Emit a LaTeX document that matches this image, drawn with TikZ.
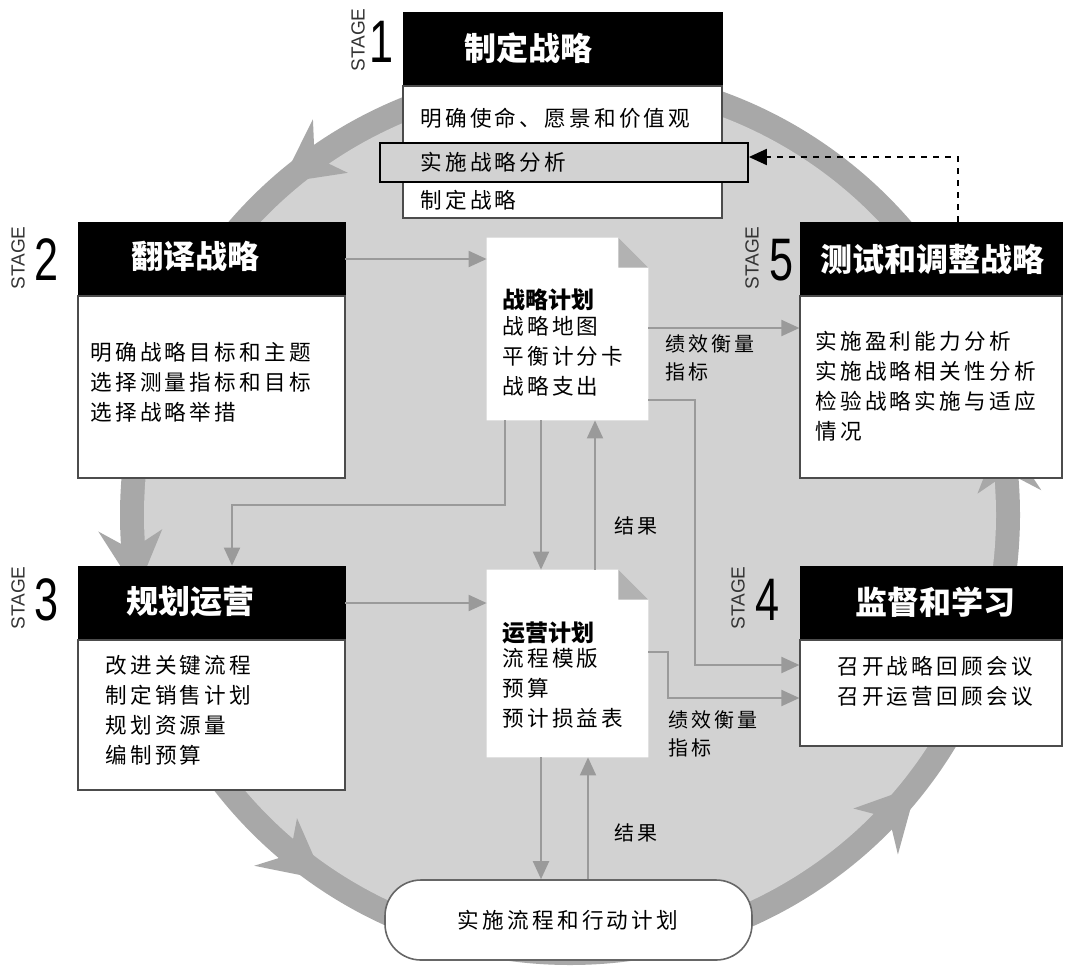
\documentclass[tikz,border=0pt]{standalone}
\usepackage{fontspec}
\usetikzlibrary{arrows.meta,calc}
\newfontfamily\cjk{Noto Sans CJK SC}
\newfontfamily\cjks[LetterSpace=15]{Noto Sans CJK SC}
\newfontfamily\stg{Liberation Sans}
\definecolor{ring}{HTML}{A8A8A8}
\definecolor{inner}{HTML}{D2D2D2}
\definecolor{ln}{HTML}{9A9A9A}
\tikzset{
 hdr/.style={fill=black,draw=black,minimum width=#1,minimum height=37pt,inner sep=0pt},
 bodyb/.style={fill=white,draw=black!70,line width=0.6pt,inner sep=0pt},
 ttl/.style={text=white,font=\cjk\fontsize{16}{18}\selectfont\bfseries},
 txt/.style={font=\cjks\fontsize{10.8}{15}\selectfont,align=left,inner sep=0pt},
 lab/.style={font=\cjks\fontsize{10}{14}\selectfont,align=left,inner sep=0pt},
 ga/.style={draw=ln,line width=1pt,-{Triangle[length=9pt,width=8pt]}},
 stagelbl/.style={font=\stg\fontsize{9.5}{10}\selectfont,rotate=90,text=black!80,inner sep=0pt},
 bignum/.style={font=\stg\fontsize{30}{30}\selectfont,xscale=0.72,inner sep=0pt}
}
\begin{document}
\begin{tikzpicture}[x=0.5pt,y=-0.5pt]
\useasboundingbox (0,0) rectangle (1080,975);
\coordinate (c) at (570,515);
% ring
\fill[ring] (c) circle (225pt);
\fill[inner] (c) circle (213pt);
\foreach \p in {237,178,132,46,357}{
  \fill[ring] ($(c)+(\p-8:440)$) -- ($(c)+(\p:408)$) -- ($(c)+(\p-2.5:440)$) -- ($(c)+(\p:472)$) -- cycle;
}
% stage 1
\node[hdr=159.5pt] (s1h) at (562.5,49) {};
\node[ttl] (s1t) at (528,48) {制定战略};
\node[bodyb,minimum width=159.5pt,minimum height=66pt] (s1b) at (562.5,152) {};
\node[txt,anchor=west] (s1l1) at (420,118) {明确使命、愿景和价值观};
\node[fill=inner,draw=black,line width=0.9pt,minimum width=184pt,minimum height=19.5pt,inner sep=0pt] (hl) at (564,162.5) {};
\node[txt,anchor=west] (s1l2) at (420,162) {实施战略分析};
\node[txt,anchor=west] (s1l3) at (420,200) {制定战略};
\node[stagelbl] (st1) at (358,40) {STAGE};
\node[bignum] (n1) at (382,42) {1};
% stage 2
\node[hdr=133.5pt] (s2h) at (211.5,259) {};
\node[ttl] (s2t) at (195,256) {翻译战略};
\node[bodyb,minimum width=133.5pt,minimum height=91pt] (s2b) at (211.5,387) {};
\node[txt,anchor=north west] (s2l) at (90,342) {明确战略目标和主题\\选择测量指标和目标\\选择战略举措};
\node[stagelbl] (st2) at (18,258) {STAGE};
\node[bignum] (n2) at (47,260) {2};
% stage 3
\node[hdr=133.5pt] (s3h) at (211.5,603) {};
\node[ttl] (s3t) at (190,602) {规划运营};
\node[bodyb,minimum width=133.5pt,minimum height=75pt] (s3b) at (211.5,715) {};
\node[txt,anchor=north west] (s3l) at (105,655) {改进关键流程\\制定销售计划\\规划资源量\\编制预算};
\node[stagelbl] (st3) at (18,598) {STAGE};
\node[bignum] (n3) at (47,600) {3};
% stage 5
\node[hdr=131pt] (s5h) at (931,259) {};
\node[ttl] (s5t) at (932,259) {测试和调整战略};
\node[bodyb,minimum width=131pt,minimum height=91pt] (s5b) at (931,387) {};
\node[txt,anchor=north west] (s5l) at (815,331) {实施盈利能力分析\\实施战略相关性分析\\检验战略实施与适应\\情况};
\node[stagelbl] (st5) at (752,258) {STAGE};
\node[bignum] (n5) at (781,260) {5};
% stage 4
\node[hdr=131pt] (s4h) at (931,603) {};
\node[ttl] (s4t) at (935,602) {监督和学习};
\node[bodyb,minimum width=131pt,minimum height=53pt] (s4b) at (931,693) {};
\node[txt,align=center] (s4l) at (935,681) {召开战略回顾会议\\召开运营回顾会议};
\node[stagelbl] (st4) at (738,598) {STAGE};
\node[bignum] (n4) at (768,600) {4};
% documents
\node[minimum width=80.5pt,minimum height=91pt,inner sep=0pt] (d1) at (567.5,329) {};
\node[minimum width=80.5pt,minimum height=93.5pt,inner sep=0pt] (d2) at (567.5,663.5) {};
\foreach \d in {d1,d2}{
 \fill[white] (\d.north west) -- ([xshift=-15pt]\d.north east) -- ([yshift=-15pt]\d.north east) -- (\d.south east) -- (\d.south west) -- cycle;
 \fill[black!30] ([xshift=-15pt]\d.north east) -- ([yshift=-15pt]\d.north east) -- ([xshift=-15pt,yshift=-15pt]\d.north east) -- cycle;
}
\node[anchor=west,inner sep=0pt,font=\cjk\fontsize{11.5}{14}\selectfont\bfseries] (d1t) at (502,300) {战略计划};
\node[txt,anchor=north west] (d1l) at (502,316) {战略地图\\平衡计分卡\\战略支出};
\node[anchor=west,inner sep=0pt,font=\cjk\fontsize{11.5}{14}\selectfont\bfseries] (d2t) at (502,633) {运营计划};
\node[txt,anchor=north west] (d2l) at (502,648) {流程模版\\预算\\预计损益表};
% bottom
\node[fill=white,draw=black!60,line width=0.8pt,rounded corners=18pt,minimum width=183.5pt,minimum height=40pt] (bt) at (568.5,920) {};
\node[txt] (btl) at (568,920) {实施流程和行动计划};
% connectors
\draw[ga] (s2h.east) -- (d1.west |- s2h.east);
\draw[ga] (s3h.east) -- (d2.west |- s3h.east);
\draw[ga] (d1.east |- 0,328) -- (s5b.west |- 0,328);
\draw[ga] (d1.east |- 0,400) -- (695,400) -- (695,665) -- (s4b.west |- 0,665);
\draw[ga] (d2.east |- 0,652) -- (668,652) -- (668,698) -- (s4b.west |- 0,698);
\draw[ga] (d1.south -| 505,0) -- (505,505) -- (232,505) -- (s3h.north -| 232,0);
\draw[ga] (d1.south -| 541,0) -- (d2.north -| 541,0);
\draw[ga] (d2.north -| 595,0) -- (d1.south -| 595,0);
\draw[ga] (d2.south -| 541,0) -- (bt.north -| 541,0);
\draw[ga] (bt.north -| 588,0) -- (d2.south -| 588,0);
\draw[black,line width=1pt,dashed,-{Triangle[length=9pt,width=8pt]}] (s5h.north -| 958,0) -- (958,157) -- (hl.east |- 0,157);
% labels
\node[lab,anchor=north west] (m1) at (665,334) {绩效衡量\\指标};
\node[lab,anchor=north west] (m2) at (668,710) {绩效衡量\\指标};
\node[lab] (r1) at (636,526) {结果};
\node[lab] (r2) at (636,833) {结果};
\end{tikzpicture}
\end{document}
